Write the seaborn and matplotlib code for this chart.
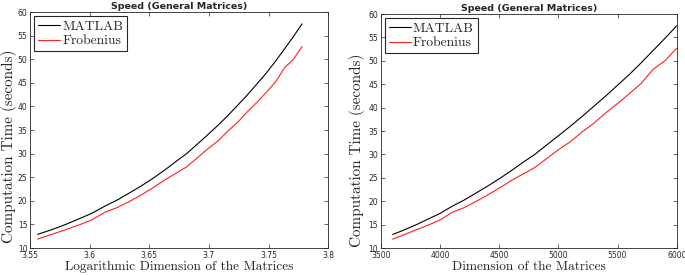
import numpy as np
import pandas as pd
import matplotlib
matplotlib.use('Agg')
import matplotlib.pyplot as plt
import seaborn as sns

# matrix dimension n and computation time (s)
dims = [3600, 3700, 3800, 3900, 4000, 4100, 4200, 4300, 4400, 4500, 4600, 4700, 4800,
        4900, 5000, 5100, 5200, 5300, 5400, 5500, 5600, 5700, 5800, 5900, 6000]
matlab = [12.9, 13.9, 15.0, 16.2, 17.4, 18.9, 20.2, 21.7, 23.2, 24.8, 26.5, 28.3, 30.0,
          32.0, 34.0, 36.0, 38.1, 40.3, 42.5, 44.8, 47.1, 49.6, 52.2, 54.8, 57.5]
frobenius = [11.9, 12.9, 13.9, 14.9, 16.0, 17.6, 18.6, 19.9, 21.3, 22.8, 24.4, 25.8, 27.2,
             29.1, 31.0, 32.7, 34.8, 36.7, 38.9, 40.9, 43.0, 45.2, 48.2, 50.0, 52.7]

df = pd.DataFrame({'n': dims * 2,
                   'time': matlab + frobenius,
                   'method': ['MATLAB'] * len(dims) + ['Frobenius'] * len(dims)})
df['logn'] = np.log10(df['n'])

sns.set_style('ticks')
serif = 'cmr10'
palette = {'MATLAB': 'black', 'Frobenius': '#ff1f1f'}

fig = plt.figure(figsize=(6.85, 2.75), dpi=100)
ax1 = fig.add_axes([0.044, 0.098, 0.435, 0.858])
ax2 = fig.add_axes([0.556, 0.098, 0.432, 0.851])

sns.lineplot(data=df, x='logn', y='time', hue='method', palette=palette,
             linewidth=0.8, ax=ax1)
sns.lineplot(data=df, x='n', y='time', hue='method', palette=palette,
             linewidth=0.8, ax=ax2)

ax1.set_xlim(3.55, 3.8)
ax1.set_xticks([3.55, 3.6, 3.65, 3.7, 3.75, 3.8])
ax1.set_xticklabels(['3.55', '3.6', '3.65', '3.7', '3.75', '3.8'])
ax1.set_xlabel('Logarithmic Dimension of the Matrices', family=serif, fontsize=9.6, labelpad=1)
ax1.set_ylabel('Computation Time (seconds)', family=serif, fontsize=10.9)
ax1.yaxis.set_label_coords(-0.043, 0.43)

ax2.set_xlim(3500, 6000)
ax2.set_xticks(range(3500, 6001, 500))
ax2.set_xlabel('Dimension of the Matrices', family=serif, fontsize=9.6, labelpad=1)
ax2.set_ylabel('Computation Time (seconds)', family=serif, fontsize=10.9)
ax2.yaxis.set_label_coords(-0.055, 0.42)

for ax in (ax1, ax2):
    ax.set_ylim(10, 60)
    ax.set_yticks(range(10, 61, 5))
    ax.set_title('Speed (General Matrices)', fontsize=6.8, fontweight='bold', pad=2)
    ax.tick_params(direction='in', length=3, width=0.5, labelsize=5.5,
                   top=True, right=True, pad=2, colors='#262626')
    for s in ax.spines.values():
        s.set_linewidth(0.6)
        s.set_color('#262626')
    leg = ax.legend(loc='upper left', prop={'family': serif, 'size': 9.8},
                    handlelength=1.6, handletextpad=0.15, borderpad=0.3,
                    labelspacing=0.15, fancybox=False, framealpha=1,
                    borderaxespad=0.3)
    leg.get_frame().set_edgecolor('#262626')
    leg.get_frame().set_linewidth(0.8)

fig.savefig('out.png', dpi=100)
